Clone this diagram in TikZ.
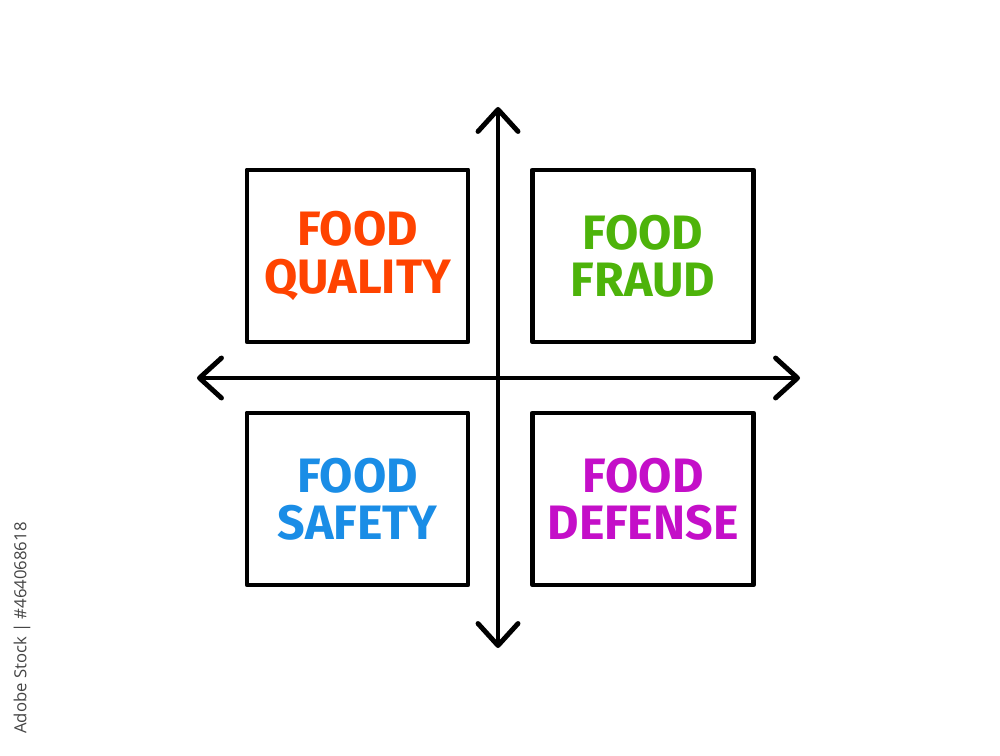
\documentclass[tikz,border=0pt]{standalone}
\usepackage{fontspec}
\setmainfont{Fira Sans}
\newfontfamily\markfont{Fira Sans}[UprightFont=* Bold]
\newfontfamily\stockfont{Open Sans}
\usepackage{tikz}
\usetikzlibrary{
  arrows.meta, positioning
}
\definecolor{qualityred}{HTML}{FF4300}
\definecolor{fraudgreen}{HTML}{4DB30A}
\definecolor{safetyblue}{HTML}{1A8DE6}
\definecolor{defensepink}{HTML}{C40FC8}
\definecolor{stockgray}{HTML}{444444}

\begin{document}
\begin{tikzpicture}[x=0.02cm, y=-0.02cm,
  quadbox/.style={draw, line width=2.8pt, line join=round,
    minimum width=4.42cm, minimum height=3.44cm, inner sep=0pt,
    align=center, font=\markfont\fontsize{27.5}{27}\selectfont},
  axisline/.style={line width=2.8pt, line cap=round,
    {Straight Barb[round, length=0.44cm, width=0.8cm]}-{Straight Barb[round, length=0.44cm, width=0.8cm]}}]
  \useasboundingbox (0,0) rectangle (1000,756);

  % Quadrant boxes
  \node[quadbox, text=qualityred] (quality) at (357.5,256) {FOOD\\QUALITY};
  \node[quadbox, text=fraudgreen] (fraud) at (643,256) {FOOD\\FRAUD};
  \node[quadbox, text=safetyblue] (safety) at (357.5,499) {FOOD\\SAFETY};
  \node[quadbox, text=defensepink] (defense) at (643,499) {FOOD\\DEFENSE};

  % Axis ends
  \coordinate (top) at (498,107);
  \coordinate (bottom) at (498,648);
  \coordinate (left) at (197,378);
  \coordinate (right) at (800,378);

  % Axes
  \draw[axisline] (top) -- (bottom);
  \draw[axisline] (left) -- (right);

  % Stock label
  \node[rotate=90, text=stockgray, font=\stockfont\fontsize{9.5}{11}\selectfont]
    (stock) at (22,628) {Adobe Stock | \#464068618};
\end{tikzpicture}
\end{document}
